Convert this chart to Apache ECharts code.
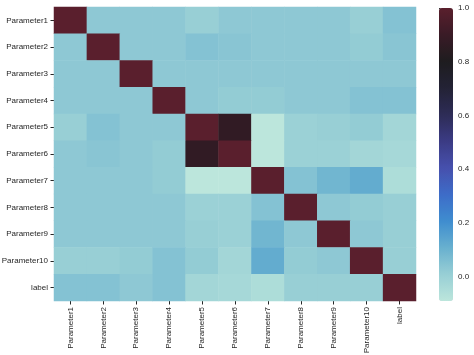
<!DOCTYPE html>
<html>
<head>
<meta charset="utf-8">
<script src="https://cdn.jsdelivr.net/npm/echarts@6/dist/echarts.min.js"></script>
<style>
  html, body { margin: 0; padding: 0; background: #fff; }
  #main { width: 474px; height: 355px; }
</style>
</head>
<body>
<div id="main"></div>
<script>
// 变量名（行列一致）
const names = ['Parameter1', 'Parameter2', 'Parameter3', 'Parameter4', 'Parameter5',
  'Parameter6', 'Parameter7', 'Parameter8', 'Parameter9', 'Parameter10', 'label'];

// 相关系数矩阵，每行一个变量
const rowP1  = [1.00, 0.03, 0.03, 0.03, 0.01, 0.03, 0.03, 0.03, 0.03, 0.01, 0.05];
const rowP2  = [0.03, 1.00, 0.03, 0.03, 0.05, 0.04, 0.03, 0.03, 0.03, 0.02, 0.04];
const rowP3  = [0.03, 0.03, 1.00, 0.03, 0.03, 0.03, 0.03, 0.03, 0.03, 0.03, 0.03];
const rowP4  = [0.03, 0.03, 0.03, 1.00, 0.03, 0.02, 0.02, 0.03, 0.03, 0.05, 0.05];
const rowP5  = [0.01, 0.05, 0.03, 0.03, 1.00, 0.87, -0.09, 0.00, 0.01, 0.02, -0.02];
const rowP6  = [0.03, 0.04, 0.03, 0.02, 0.87, 1.00, -0.09, 0.00, 0.00, -0.02, -0.03];
const rowP7  = [0.03, 0.03, 0.03, 0.02, -0.09, -0.09, 1.00, 0.05, 0.09, 0.12, -0.05];
const rowP8  = [0.03, 0.03, 0.03, 0.03, 0.00, 0.00, 0.05, 1.00, 0.03, 0.02, 0.01];
const rowP9  = [0.03, 0.03, 0.03, 0.03, 0.01, 0.00, 0.09, 0.03, 1.00, 0.03, 0.01];
const rowP10 = [0.01, 0.01, 0.02, 0.05, 0.02, -0.02, 0.12, 0.02, 0.03, 1.00, 0.01];
const rowLabel = [0.05, 0.05, 0.03, 0.05, -0.02, -0.03, -0.05, 0.01, 0.01, 0.01, 1.00];
const matrix = [rowP1, rowP2, rowP3, rowP4, rowP5, rowP6, rowP7, rowP8, rowP9, rowP10, rowLabel];

// 色条范围与刻度
const vMin = -0.09;
const vMax = 1.0;
const barTicks = [0.0, 0.2, 0.4, 0.6, 0.8, 1.0];

// 冰火配色（从低到高，等距）
const iceFire = ['#bce6dc', '#98cfd5', '#68b0cf', '#3f8dcf', '#3d6cc8', '#4650ad',
  '#3b3b84', '#2d2c56', '#232235', '#1e1c1f', '#3a1b26', '#5a1f2d'];

let cells = [];
for (let r = 0; r < matrix.length; r++) {
  for (let c = 0; c < matrix[r].length; c++) {
    cells.push([c, r, matrix[r][c]]);
  }
}

const textColor = '#262626';
const font = 'Liberation Sans';
const fontSize = 8;

var myChart = echarts.init(document.getElementById('main'));
let option = {
  animation: false,
  grid: [
    { left: 54, top: 7, width: 362, height: 294, outerBoundsMode: 'none', containLabel: false },
    { left: 439, top: 8, width: 14, height: 293, outerBoundsMode: 'none', containLabel: false }
  ],
  xAxis: [
    {
      gridIndex: 0,
      type: 'category',
      data: names,
      axisLine: { show: false },
      axisTick: { show: true, alignWithLabel: true, length: 3.5, lineStyle: { color: textColor } },
      axisLabel: { rotate: 90, fontFamily: font, fontSize: fontSize, color: textColor, margin: 6 },
      splitLine: { show: false }
    },
    { gridIndex: 1, type: 'value', show: false, min: 0, max: 1 }
  ],
  yAxis: [
    {
      gridIndex: 0,
      type: 'category',
      data: names,
      inverse: true,
      axisLine: { show: false },
      axisTick: { show: true, alignWithLabel: true, length: 3.5, lineStyle: { color: textColor } },
      axisLabel: { fontFamily: font, fontSize: fontSize, color: textColor, margin: 6 },
      splitLine: { show: false }
    },
    {
      gridIndex: 1,
      type: 'value',
      position: 'right',
      min: vMin,
      max: vMax,
      axisLine: { show: false },
      axisTick: { show: true, length: 3.5, customValues: barTicks, lineStyle: { color: textColor } },
      axisLabel: {
        fontFamily: font, fontSize: fontSize, color: textColor, margin: 5,
        customValues: barTicks,
        formatter: function (v) { return v.toFixed(1); }
      },
      splitLine: { show: false }
    }
  ],
  visualMap: {
    type: 'continuous',
    min: vMin,
    max: vMax,
    seriesIndex: 0,
    calculable: false,
    hoverLink: false,
    left: 439,
    top: 8,
    padding: 0,
    itemWidth: 14,
    itemHeight: 293,
    text: ['', ''],
    showLabel: false,
    inRange: { color: iceFire }
  },
  series: [
    {
      name: 'corr',
      type: 'heatmap',
      xAxisIndex: 0,
      yAxisIndex: 0,
      data: cells,
      itemStyle: { borderWidth: 0 }
    }
  ]
};
myChart.setOption(option);
</script>
</body>
</html>
